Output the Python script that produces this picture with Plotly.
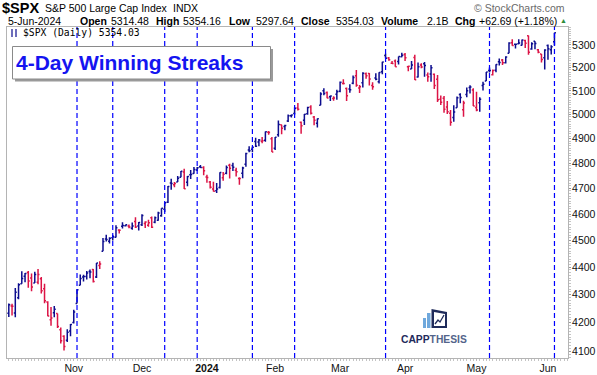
import math
import plotly.graph_objects as go

# ---------------- data ----------------
dates = [
    "2023-10-04", "2023-10-05", "2023-10-06", "2023-10-09", "2023-10-10", "2023-10-11", "2023-10-12", "2023-10-13",
    "2023-10-16", "2023-10-17", "2023-10-18", "2023-10-19", "2023-10-20", "2023-10-23", "2023-10-24", "2023-10-25",
    "2023-10-26", "2023-10-27", "2023-10-30", "2023-10-31",
    "2023-11-01", "2023-11-02", "2023-11-03", "2023-11-06", "2023-11-07", "2023-11-08", "2023-11-09", "2023-11-10",
    "2023-11-13", "2023-11-14", "2023-11-15", "2023-11-16", "2023-11-17", "2023-11-20", "2023-11-21", "2023-11-22",
    "2023-11-24", "2023-11-27", "2023-11-28", "2023-11-29", "2023-11-30",
    "2023-12-01", "2023-12-04", "2023-12-05", "2023-12-06", "2023-12-07", "2023-12-08", "2023-12-11", "2023-12-12",
    "2023-12-13", "2023-12-14", "2023-12-15", "2023-12-18", "2023-12-19", "2023-12-20", "2023-12-21", "2023-12-22",
    "2023-12-26", "2023-12-27", "2023-12-28", "2023-12-29",
    "2024-01-02", "2024-01-03", "2024-01-04", "2024-01-05", "2024-01-08", "2024-01-09", "2024-01-10", "2024-01-11",
    "2024-01-12", "2024-01-16", "2024-01-17", "2024-01-18", "2024-01-19", "2024-01-22", "2024-01-23", "2024-01-24",
    "2024-01-25", "2024-01-26", "2024-01-29", "2024-01-30", "2024-01-31",
    "2024-02-01", "2024-02-02", "2024-02-05", "2024-02-06", "2024-02-07", "2024-02-08", "2024-02-09", "2024-02-12",
    "2024-02-13", "2024-02-14", "2024-02-15", "2024-02-16", "2024-02-20", "2024-02-21", "2024-02-22", "2024-02-23",
    "2024-02-26", "2024-02-27", "2024-02-28", "2024-02-29",
    "2024-03-01", "2024-03-04", "2024-03-05", "2024-03-06", "2024-03-07", "2024-03-08", "2024-03-11", "2024-03-12",
    "2024-03-13", "2024-03-14", "2024-03-15", "2024-03-18", "2024-03-19", "2024-03-20", "2024-03-21", "2024-03-22",
    "2024-03-25", "2024-03-26", "2024-03-27", "2024-03-28",
    "2024-04-01", "2024-04-02", "2024-04-03", "2024-04-04", "2024-04-05", "2024-04-08", "2024-04-09", "2024-04-10",
    "2024-04-11", "2024-04-12", "2024-04-15", "2024-04-16", "2024-04-17", "2024-04-18", "2024-04-19", "2024-04-22",
    "2024-04-23", "2024-04-24", "2024-04-25", "2024-04-26", "2024-04-29", "2024-04-30",
    "2024-05-01", "2024-05-02", "2024-05-03", "2024-05-06", "2024-05-07", "2024-05-08", "2024-05-09", "2024-05-10",
    "2024-05-13", "2024-05-14", "2024-05-15", "2024-05-16", "2024-05-17", "2024-05-20", "2024-05-21", "2024-05-22",
    "2024-05-23", "2024-05-24", "2024-05-28", "2024-05-29", "2024-05-30", "2024-05-31",
    "2024-06-03", "2024-06-04", "2024-06-05",
]

opens = [
    4233.83, 4259.31, 4234.79, 4289.02, 4339.75, 4366.59, 4380.94, 4360.49,
    4342.37, 4345.23, 4357.35, 4321.36, 4273.85, 4210.40, 4235.79, 4232.42,
    4175.99, 4152.93, 4139.39, 4171.33,
    4201.27, 4268.26, 4334.23, 4364.27, 4366.21, 4384.37, 4391.41, 4364.15,
    4406.66, 4458.97, 4505.30, 4497.08, 4509.55, 4511.70, 4538.77, 4553.04,
    4555.84, 4554.86, 4545.55, 4571.84, 4554.87,
    4559.43, 4564.37, 4557.25, 4586.23, 4568.84, 4576.20, 4593.39, 4618.30,
    4646.20, 4721.04, 4714.23, 4725.58, 4743.72, 4764.73, 4724.29, 4753.92,
    4758.86, 4773.45, 4786.44, 4782.88,
    4745.20, 4725.07, 4697.42, 4690.57, 4703.70, 4741.93, 4759.94, 4792.13,
    4791.18, 4772.35, 4739.13, 4760.10, 4796.28, 4853.42, 4856.80, 4888.56,
    4886.66, 4888.91, 4892.95, 4925.89, 4899.19,
    4861.11, 4916.06, 4957.19, 4950.16, 4973.05, 4995.16, 5004.17, 5026.83,
    4967.94, 4976.44, 5003.14, 5031.13, 4989.32, 4963.03, 5038.83, 5100.92,
    5093.00, 5074.60, 5067.20, 5085.36,
    5098.51, 5130.99, 5110.52, 5108.03, 5132.38, 5164.46, 5111.96, 5134.30,
    5173.49, 5175.14, 5123.31, 5154.77, 5139.09, 5181.69, 5253.43, 5242.48,
    5219.52, 5228.85, 5226.31, 5248.03,
    5257.97, 5204.29, 5194.37, 5244.05, 5158.95, 5211.37, 5217.03, 5167.88,
    5172.95, 5171.51, 5149.67, 5064.59, 5068.97, 5031.52, 5005.44, 4987.33,
    5028.85, 5084.65, 5019.88, 5084.65, 5114.13, 5103.78,
    5029.03, 5049.32, 5122.78, 5142.42, 5187.20, 5168.98, 5189.03, 5225.49,
    5233.08, 5221.10, 5263.26, 5310.07, 5303.10, 5305.35, 5298.69, 5319.28,
    5340.26, 5281.45, 5315.91, 5278.73, 5259.77, 5243.21,
    5297.15, 5278.24, 5314.48,
]

highs = [
    4268.50, 4267.13, 4324.10, 4341.73, 4385.46, 4378.64, 4385.85, 4377.10,
    4383.33, 4393.57, 4364.20, 4339.54, 4276.56, 4255.84, 4259.38, 4232.42,
    4183.60, 4156.70, 4177.47, 4195.55,
    4245.64, 4319.72, 4373.62, 4372.21, 4386.26, 4391.20, 4393.40, 4415.62,
    4421.76, 4508.67, 4521.17, 4511.99, 4520.12, 4557.11, 4542.14, 4568.43,
    4560.31, 4560.52, 4568.14, 4587.64, 4569.89,
    4599.39, 4572.37, 4578.56, 4590.74, 4590.92, 4609.23, 4622.44, 4643.93,
    4709.69, 4738.57, 4725.53, 4749.52, 4768.69, 4778.01, 4748.71, 4772.94,
    4784.72, 4785.39, 4793.30, 4788.43,
    4754.33, 4729.29, 4726.78, 4721.49, 4764.54, 4765.47, 4790.80, 4798.50,
    4802.40, 4782.34, 4744.23, 4785.79, 4842.07, 4868.41, 4866.48, 4903.68,
    4898.15, 4906.69, 4929.31, 4931.09, 4906.75,
    4906.97, 4975.29, 4957.19, 4957.77, 4999.89, 5000.40, 5030.06, 5048.39,
    4971.30, 5002.52, 5032.72, 5038.70, 4993.71, 4983.21, 5094.39, 5111.06,
    5097.66, 5080.69, 5077.37, 5104.99,
    5140.33, 5149.67, 5114.54, 5127.97, 5165.62, 5189.26, 5124.66, 5179.87,
    5179.14, 5176.85, 5136.86, 5175.60, 5180.31, 5226.19, 5261.10, 5246.09,
    5229.09, 5235.16, 5249.26, 5264.85,
    5263.95, 5208.34, 5228.75, 5256.59, 5222.18, 5219.57, 5224.81, 5178.43,
    5211.78, 5175.03, 5168.43, 5079.84, 5077.96, 5056.66, 5019.02, 5038.84,
    5076.12, 5089.48, 5057.75, 5114.62, 5123.49, 5110.83,
    5096.12, 5073.21, 5139.12, 5181.00, 5200.23, 5191.95, 5215.30, 5239.66,
    5237.26, 5250.37, 5311.76, 5325.49, 5305.45, 5325.32, 5324.32, 5323.18,
    5341.88, 5311.65, 5315.91, 5282.26, 5260.21, 5280.33,
    5302.11, 5298.80, 5354.16,
]

lows = [
    4220.48, 4225.91, 4219.55, 4283.79, 4339.64, 4345.34, 4325.43, 4311.97,
    4342.37, 4337.54, 4303.84, 4269.69, 4223.03, 4189.22, 4219.43, 4181.42,
    4127.90, 4103.78, 4132.94, 4153.12,
    4197.74, 4268.26, 4334.23, 4347.53, 4355.41, 4359.76, 4343.94, 4360.30,
    4393.82, 4458.97, 4495.31, 4487.83, 4499.66, 4510.36, 4525.51, 4545.05,
    4552.80, 4546.32, 4540.51, 4547.15, 4537.24,
    4554.71, 4546.72, 4551.68, 4546.50, 4565.22, 4574.06, 4589.86, 4608.09,
    4643.23, 4694.34, 4704.69, 4725.58, 4743.72, 4697.82, 4708.35, 4736.77,
    4758.45, 4768.90, 4780.98, 4751.99,
    4722.67, 4699.71, 4687.53, 4682.11, 4699.82, 4730.35, 4756.20, 4739.58,
    4768.98, 4747.12, 4714.82, 4740.57, 4785.87, 4844.05, 4844.37, 4865.94,
    4869.34, 4881.47, 4887.40, 4916.27, 4845.15,
    4853.52, 4907.99, 4918.09, 4934.88, 4969.05, 4987.09, 5000.34, 5016.83,
    4920.31, 4956.45, 4999.44, 4999.52, 4955.02, 4946.00, 5038.83, 5081.46,
    5068.91, 5057.29, 5058.35, 5061.89,
    5094.16, 5127.18, 5056.82, 5092.22, 5128.21, 5117.50, 5091.14, 5114.48,
    5151.88, 5123.30, 5104.35, 5145.47, 5131.59, 5171.55, 5240.66, 5229.87,
    5216.09, 5203.42, 5213.92, 5245.82,
    5229.20, 5184.05, 5194.37, 5146.06, 5157.21, 5197.35, 5160.78, 5138.70,
    5138.77, 5107.94, 5052.47, 5039.83, 5007.25, 5001.89, 4953.56, 4969.40,
    5027.96, 5047.02, 4990.58, 5073.14, 5088.65, 5035.31,
    5013.45, 5011.05, 5101.22, 5142.42, 5178.96, 5165.86, 5180.41, 5209.68,
    5211.16, 5217.98, 5263.26, 5296.19, 5283.59, 5302.40, 5297.87, 5286.01,
    5256.93, 5278.39, 5280.89, 5262.70, 5222.10, 5191.68,
    5234.32, 5257.63, 5297.64,
]

closes = [
    4263.75, 4258.19, 4308.50, 4335.66, 4358.24, 4376.95, 4349.61, 4327.78,
    4373.63, 4373.20, 4314.60, 4278.00, 4224.16, 4217.04, 4247.68, 4186.77,
    4137.23, 4117.37, 4166.82, 4193.80,
    4237.86, 4317.78, 4358.34, 4365.98, 4378.38, 4382.78, 4347.35, 4415.24,
    4411.55, 4495.70, 4502.88, 4508.24, 4514.02, 4547.38, 4538.19, 4556.62,
    4559.34, 4550.43, 4554.89, 4550.58, 4567.80,
    4594.63, 4569.78, 4567.18, 4549.34, 4585.59, 4604.37, 4622.44, 4643.70,
    4707.09, 4719.55, 4719.19, 4740.56, 4768.37, 4698.35, 4746.75, 4754.63,
    4774.75, 4781.58, 4783.35, 4769.83,
    4742.83, 4704.81, 4688.68, 4697.24, 4763.54, 4756.50, 4783.45, 4780.24,
    4783.83, 4765.98, 4739.21, 4780.94, 4839.81, 4850.43, 4864.60, 4868.55,
    4894.16, 4890.97, 4927.93, 4924.97, 4845.65,
    4906.19, 4958.61, 4942.81, 4954.23, 4995.06, 4997.91, 5026.61, 5021.84,
    4953.17, 5000.62, 5029.73, 5005.57, 4975.51, 4981.80, 5087.03, 5088.80,
    5069.53, 5078.18, 5069.76, 5096.27,
    5137.08, 5130.95, 5078.65, 5104.76, 5157.36, 5123.69, 5117.94, 5175.27,
    5165.31, 5150.48, 5117.09, 5149.42, 5178.51, 5224.62, 5241.53, 5234.18,
    5218.19, 5203.58, 5248.49, 5254.35,
    5243.77, 5205.81, 5211.49, 5147.21, 5204.34, 5202.39, 5209.91, 5160.64,
    5199.06, 5123.41, 5061.82, 5051.41, 5022.21, 5011.12, 4967.23, 5010.60,
    5070.55, 5071.63, 5048.42, 5099.96, 5116.17, 5035.69,
    5018.39, 5064.20, 5127.79, 5180.74, 5187.70, 5187.67, 5214.08, 5222.68,
    5221.42, 5246.68, 5308.15, 5297.10, 5303.27, 5308.13, 5321.41, 5307.01,
    5267.84, 5304.72, 5306.04, 5266.95, 5235.48, 5277.51,
    5283.40, 5291.34, 5354.03,
]

prior_close = 4229.45  # close of 2023-10-03, used to colour the first bar

streak_dates = ["2023-11-02", "2023-11-17", "2023-12-12", "2023-12-27", "2024-01-23",
                "2024-02-09", "2024-03-21", "2024-05-07", "2024-06-05"]

month_tick_dates = ["2023-11-01", "2023-12-01", "2024-01-02", "2024-02-01",
                    "2024-03-01", "2024-04-01", "2024-05-01", "2024-06-03"]
month_labels = ["Nov", "Dec", "<b>2024</b>", "Feb", "Mar", "Apr", "May", "Jun"]

price_ticks = [4100, 4200, 4300, 4400, 4500, 4600, 4700, 4800, 4900, 5000, 5100, 5200, 5300]

# ---------------- layout constants ----------------
W, H = 597, 375
PL, PT, PR, PB = 7, 27, 568, 358
PW, PH = PR - PL, PB - PT
BLUE = "#0c0c8e"
RED = "#dc1446"
FONT = "Arial, Liberation Sans, sans-serif"


def fx(p):
    return (p - PL) / PW


def fy(p):
    return (PB - p) / PH


pos = {d: i for i, d in enumerate(dates)}
xs = list(range(len(dates)))
prev = [prior_close] + closes[:-1]
up = [c >= p for c, p in zip(closes, prev)]

fig = go.Figure()
for flag, col in ((True, BLUE), (False, RED)):
    sel = [i for i in xs if up[i] == flag]
    fig.add_trace(go.Ohlc(
        x=[xs[i] for i in sel],
        open=[opens[i] for i in sel],
        high=[highs[i] for i in sel],
        low=[lows[i] for i in sel],
        close=[closes[i] for i in sel],
        increasing=dict(line=dict(color=col, width=1.5)),
        decreasing=dict(line=dict(color=col, width=1.5)),
        tickwidth=0.45,
        hoverinfo="skip",
        showlegend=False,
    ))

shapes = []
for d in streak_dates:
    shapes.append(dict(type="line", xref="x", yref="paper", x0=pos[d], x1=pos[d], y0=0, y1=1,
                       line=dict(color="#0000ff", width=1.2, dash="5px,3px"), layer="above"))

# label box with shadow
shapes.append(dict(type="rect", xref="paper", yref="paper", x0=fx(15), x1=fx(273), y0=fy(49), y1=fy(81.5),
                   fillcolor="#9a9a9a", line=dict(width=0), layer="above"))
shapes.append(dict(type="rect", xref="paper", yref="paper", x0=fx(12.5), x1=fx(270.5), y0=fy(46.5), y1=fy(79),
                   fillcolor="white", line=dict(color="#8a8a8a", width=1), layer="above"))

# small OHLC icon next to the symbol label
for x0, c in ((12, BLUE), (16, BLUE)):
    shapes.append(dict(type="line", xref="paper", yref="paper", x0=fx(x0), x1=fx(x0), y0=fy(29), y1=fy(37),
                       line=dict(color=c, width=1.2), layer="above"))

# logo icon
LOGO_LB = "#6fa8dc"
LOGO_NV = "#1f2b5b"
shapes += [
    dict(type="rect", xref="paper", yref="paper", x0=fx(423), x1=fx(426), y0=fy(328), y1=fy(318),
         fillcolor=LOGO_LB, line=dict(width=0)),
    dict(type="rect", xref="paper", yref="paper", x0=fx(427), x1=fx(430.5), y0=fy(328), y1=fy(313),
         fillcolor=LOGO_LB, line=dict(width=0)),
    dict(type="path", xref="paper", yref="paper",
         path=f"M {fx(431.5)},{fy(328)} L {fx(447)},{fy(328)} L {fx(447)},{fy(312)} L {fx(431.5)},{fy(309)} Z",
         fillcolor=LOGO_NV, line=dict(width=0)),
    dict(type="path", xref="paper", yref="paper",
         path=f"M {fx(434)},{fy(326)} L {fx(445)},{fy(326)} L {fx(445)},{fy(314)} L {fx(434)},{fy(312)} Z",
         fillcolor="white", line=dict(width=0)),
    dict(type="path", xref="paper", yref="paper",
         path=f"M {fx(435)},{fy(324)} L {fx(438)},{fy(320)} L {fx(440)},{fy(322)} L {fx(444)},{fy(315)}",
         line=dict(color=LOGO_NV, width=1.3)),
]

ann = []


def txt(x, y, s, size=10.5, color="#000", bold=False, family=FONT, anchor="left"):
    ann.append(dict(xref="paper", yref="paper", x=fx(x), y=fy(y), text=("<b>%s</b>" % s) if bold else s,
                    showarrow=False, xanchor=anchor, yanchor="middle",
                    font=dict(size=size, color=color, family=family)))


# header row 1
txt(0, 8, "$SPX", size=14.5, bold=True)
txt(43, 8, "S&P 500 Large Cap Index", size=10.5)
txt(171, 8, "INDX", size=10.5)
txt(567, 7.5, "© StockCharts.com", size=10.5, color="#6a6a6a", anchor="right")
# header row 2
txt(6, 21, "5-Jun-2024")
txt(78, 21, "Open", bold=True)
txt(109, 21, "5314.48")
txt(154, 21, "High", bold=True)
txt(181, 21, "5354.16")
txt(227, 21, "Low", bold=True)
txt(254, 21, "5297.64")
txt(299, 21, "Close", bold=True)
txt(334, 21, "5354.03")
txt(379, 21, "Volume", bold=True)
txt(425, 21, "2.1B")
txt(453, 21, "Chg", bold=True)
txt(477, 21, "+62.69 (+1.18%)")
txt(563, 20.5, "▲", size=7, color="#2e8b3a", anchor="center")
# in-chart symbol label
txt(21, 33, "$SPX (Daily) 5354.03", size=9.7, family="DejaVu Sans Mono, monospace")
# annotation box text
txt(14, 62.5, "4-Day Winning Streaks", size=21, bold=True, color="#1414f0")
# logo text
ann.append(dict(xref="paper", yref="paper", x=fx(434), y=fy(339), showarrow=False, xanchor="center",
                yanchor="middle",
                text="<b><span style='color:#1f2b5b'>CAPP</span><span style='color:#53648a'>THESIS</span></b>",
                font=dict(size=10.3, family=FONT)))

# axis ranges from pixel geometry (index 0 at x=8.8 px, 3.248 px per session)
px_per_day = 3.248
x0_px = 8.8
x_range = [(PL - x0_px) / px_per_day, (PR - x0_px) / px_per_day]
y_range = [math.log10(4078), math.log10(5380)]

fig.update_layout(
    template="none",
    width=W, height=H,
    margin=dict(l=PL, r=W - PR, t=PT, b=H - PB, pad=0, autoexpand=False),
    paper_bgcolor="white", plot_bgcolor="white",
    shapes=shapes, annotations=ann,
    font=dict(family=FONT, size=10.5, color="#111"),
    xaxis=dict(
        automargin=False,
        range=x_range, rangeslider=dict(visible=False),
        tickmode="array", tickvals=[pos[d] for d in month_tick_dates], ticktext=month_labels,
        ticks="outside", ticklen=2, tickcolor="#bbbbbb", tickwidth=1,
        ticklabelstandoff=-2,
        minor=dict(ticks="outside", dtick=1, tick0=0, ticklen=2, tickcolor="#c4c4c4", tickwidth=1),
        showgrid=False, zeroline=False,
        showline=True, linecolor="#b4b4b4", linewidth=1, mirror=True,
        tickfont=dict(size=10.5, color="#111"),
        fixedrange=True,
    ),
    yaxis=dict(
        automargin=False,
        type="log", range=y_range, side="right",
        tickmode="array", tickvals=price_ticks, ticktext=[str(v) for v in price_ticks],
        ticks="outside", ticklen=2, tickcolor="#999999", tickwidth=1,
        ticklabelstandoff=-1,
        minor=dict(ticks="outside", dtick="L10", ticklen=2, tickcolor="#c4c4c4", tickwidth=1),
        showgrid=False, zeroline=False,
        showline=True, linecolor="#b4b4b4", linewidth=1, mirror=True,
        tickfont=dict(size=10.5, color="#111"),
        fixedrange=True,
    ),
)

fig.write_html("out.html", config={"displayModeBar": False, "staticPlot": True},
               post_script="document.body.style.margin='0';document.body.style.padding='0';")
